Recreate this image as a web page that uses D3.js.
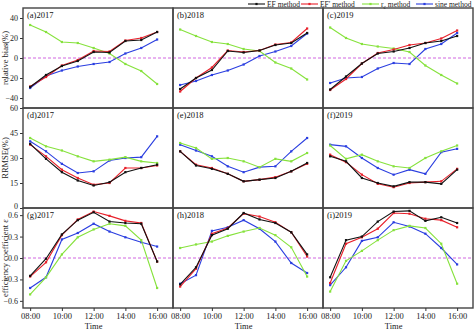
<!DOCTYPE html>
<html>
<head>
<meta charset="utf-8">
<script src="https://cdn.jsdelivr.net/npm/d3@7"></script>
<style>
  body { margin: 0; background: #fff; }
  text { font-family: "Liberation Serif", "Times New Roman", serif; }
</style>
</head>
<body>
<div id="chart"></div>
<script>
// hourly points 08:00 .. 16:00
const hours = [8, 9, 10, 11, 12, 13, 14, 15, 16];
const years = ["2017", "2018", "2019"];
const methods = ["EF", "EF2", "rc", "sine"];

// relative bias (%) per year
const biasEF = [
  [-29, -17, -8, -3, 6, 5.5, 17, 18, 26],
  [-31, -20, -12, 7, 5.5, 7.5, 13, 15, 25],
  [-31.5, -18.5, -5.5, 4.5, 6.5, 10, 15, 17, 22]
];
const biasEF2 = [
  [-28.5, -19, -7.5, -2, 7, 6.5, 17.5, 20, 26],
  [-33.5, -20, -9.5, 7.5, 6, 7.5, 13.5, 15.5, 29.5],
  [-32, -21, -5.5, 5, 8.5, 13, 15, 19.5, 27.5]
];
const biasRc = [
  [33, 26, 16, 15, 10, 4.5, -6, -13, -26],
  [28.5, 22, 16, 14, 9, 7, -4.5, -10.5, -21.5],
  [30.5, 20, 14, 11.5, 9.5, 6, -7.5, -17, -25.5]
];
const biasSine = [
  [-30, -18, -12.5, -8.5, -6, -4, 4.5, 10, 18.5],
  [-27, -23, -17, -12.5, -6.5, 2, 6.5, 12, 24.5],
  [-25, -20, -19, -10.5, -5, -6, 9, 14, 25]
];

// RRMSE (%) per year
const rrmseEF = [
  [38.5, 29.5, 21.5, 16.5, 13.5, 15.5, 21.5, 24, 26],
  [34, 25.5, 23.5, 20.5, 16, 17, 18, 22, 27],
  [31, 28, 18, 15, 13, 15.5, 15.5, 14.5, 23]
];
const rrmseEF2 = [
  [38, 31, 23, 18, 14, 15, 24, 24, 25.5],
  [34, 26, 24, 20.5, 16, 17, 18.5, 22, 26.5],
  [32, 27.5, 20, 14.5, 12.5, 15, 15.5, 16, 23.5]
];
const rrmseRc = [
  [42, 37, 34.5, 31, 28, 29, 30.5, 28, 27],
  [39, 36, 29.5, 30, 28, 24.5, 29.5, 28, 33],
  [37.5, 29.5, 32, 28, 25, 24, 30, 34, 37.5]
];
const rrmseSine = [
  [40, 34, 26.5, 21, 22, 28.5, 30, 30.5, 43],
  [38, 34.5, 31, 25, 21.5, 24.5, 25, 34, 42],
  [38, 37, 30, 24, 20, 23, 20.5, 33.5, 35.5]
];

// efficiency coefficient per year
const effEF = [
  [-0.25, -0.01, 0.33, 0.53, 0.64, 0.51, 0.49, 0.48, -0.05],
  [-0.37, -0.13, 0.32, 0.41, 0.63, 0.54, 0.49, 0.36, 0.05],
  [-0.27, 0.25, 0.30, 0.51, 0.65, 0.66, 0.52, 0.57, 0.49]
];
const effEF2 = [
  [-0.26, -0.06, 0.32, 0.54, 0.65, 0.59, 0.52, 0.49, -0.05],
  [-0.40, -0.15, 0.34, 0.42, 0.62, 0.58, 0.50, 0.36, 0.02],
  [-0.35, 0.20, 0.29, 0.41, 0.63, 0.62, 0.55, 0.53, 0.43]
];
const effRc = [
  [-0.51, -0.27, 0.05, 0.29, 0.40, 0.48, 0.45, 0.25, -0.42],
  [0.14, 0.19, 0.23, 0.31, 0.37, 0.42, 0.32, 0.15, -0.26],
  [-0.47, -0.04, 0.10, 0.25, 0.39, 0.45, 0.42, 0.20, -0.36]
];
const effSine = [
  [-0.42, -0.27, 0.26, 0.35, 0.48, 0.37, 0.29, 0.22, 0.16],
  [-0.36, -0.24, 0.38, 0.43, 0.53, 0.41, 0.23, -0.07, -0.21],
  [-0.38, -0.13, 0.24, 0.29, 0.50, 0.44, 0.34, 0.14, -0.09]
];

const xTicks = [8, 10, 12, 14, 16];
const letters = ["a", "b", "c", "d", "e", "f", "g", "h", "i"];

const rows = [
  { label: "relative bias(%)", domain: [-50, 50], ticks: [-40, -20, 0, 20, 40], fmt: d3.format("d"),
    series: { EF: biasEF, EF2: biasEF2, rc: biasRc, sine: biasSine }, zero: true },
  { label: "RRMSE(%)", domain: [0, 60], ticks: [0, 15, 30, 45, 60], fmt: d3.format("d"),
    series: { EF: rrmseEF, EF2: rrmseEF2, rc: rrmseRc, sine: rrmseSine }, zero: false },
  { label: "efficiency coefficient \u03b5", domain: [-0.7, 0.7], ticks: [-0.6, -0.3, 0, 0.3, 0.6], fmt: d3.format(".1f"),
    series: { EF: effEF, EF2: effEF2, rc: effRc, sine: effSine }, zero: true }
];

const color = { EF: "#111111", EF2: "#e8202a", rc: "#86e23c", sine: "#2a3ee0" };

const W = 474, H = 330;
const marginLeft = 23, marginTop = 8, panelW = 150, panelH = 100;

const svg = d3.select("#chart").append("svg")
  .attr("width", W)
  .attr("height", H);

const x = d3.scaleLinear().domain([7.55, 17]).range([0, panelW]);

rows.forEach((row, r) => {
  const y = d3.scaleLinear().domain(row.domain).range([panelH, 0]);
  const y0 = marginTop + r * panelH;

  // left axis for the row
  const ax = svg.append("g")
    .attr("transform", `translate(${marginLeft},${y0})`)
    .call(d3.axisLeft(y).tickValues(row.ticks).tickFormat(row.fmt).tickSize(3).tickPadding(2));
  ax.select(".domain").remove();
  ax.selectAll("text").style("font-size", "8px").attr("fill", "#222");
  ax.selectAll("line").attr("stroke", "#333");
  // bottom label on a shared border: nudge up so it clears the next row's top label
  ax.selectAll(".tick text").filter(d => d === row.domain[0]).attr("dy", "0.05em");

  svg.append("text")
    .attr("transform", `translate(8,${y0 + panelH / 2}) rotate(-90)`)
    .attr("text-anchor", "middle")
    .style("font-size", "8.5px")
    .attr("fill", "#222")
    .text(row.label);

  years.forEach((yr, c) => {
    const g = svg.append("g")
      .attr("transform", `translate(${marginLeft + c * panelW},${y0})`);

    if (row.zero) {
      g.append("line")
        .attr("x1", 0).attr("x2", panelW)
        .attr("y1", y(0)).attr("y2", y(0))
        .attr("stroke", "#cc55dd")
        .attr("stroke-width", 0.9)
        .attr("stroke-dasharray", "3,2");
    }

    const line = d3.line().x((d, i) => x(hours[i])).y(d => y(d));

    methods.slice().reverse().forEach(m => {
      const vals = row.series[m][c];
      g.append("path")
        .datum(vals)
        .attr("d", line)
        .attr("fill", "none")
        .attr("stroke", color[m])
        .attr("stroke-width", 1.1);
      g.selectAll(null)
        .data(vals)
        .join("rect")
        .attr("x", (d, i) => x(hours[i]) - 1.1)
        .attr("y", d => y(d) - 1.1)
        .attr("width", 2.2)
        .attr("height", 2.2)
        .attr("fill", color[m]);
    });

    g.append("text")
      .attr("x", 4)
      .attr("y", 10)
      .style("font-size", "8.5px")
      .attr("fill", "#111")
      .text(`(${letters[r * 3 + c]})${yr}`);

    // panel frame
    g.append("rect")
      .attr("width", panelW)
      .attr("height", panelH)
      .attr("fill", "none")
      .attr("stroke", "#444")
      .attr("stroke-width", 1.4);

    if (r === rows.length - 1) {
      const bx = g.append("g")
        .attr("transform", `translate(0,${panelH})`)
        .call(d3.axisBottom(x).tickValues(xTicks)
          .tickFormat(h => d3.format("02d")(h) + ":00").tickSize(3).tickPadding(2));
      bx.select(".domain").remove();
      bx.selectAll("text").style("font-size", "8.5px").attr("fill", "#222");
      bx.selectAll("line").attr("stroke", "#333");

      g.append("text")
        .attr("x", (x(8) + x(16)) / 2)
        .attr("y", panelH + 21)
        .attr("text-anchor", "middle")
        .style("font-size", "8.5px")
        .attr("fill", "#222")
        .text("Time");
    }
  });
});

// legend across the top
const legendItems = [
  { key: "EF", x: 248, text: "EF method" },
  { key: "EF2", x: 301, text: "EF\u2032 method" },
  { key: "rc", x: 362, text: "r", sub: "c", rest: " method" },
  { key: "sine", x: 416, text: "sine method" }
];
const lg = svg.append("g").attr("transform", "translate(0,4)");
legendItems.forEach(it => {
  lg.append("line")
    .attr("x1", it.x).attr("x2", it.x + 17)
    .attr("stroke", color[it.key]).attr("stroke-width", 1.1);
  lg.append("rect")
    .attr("x", it.x + 7.4).attr("y", -1.1)
    .attr("width", 2.2).attr("height", 2.2)
    .attr("fill", color[it.key]);
  const t = lg.append("text")
    .attr("x", it.x + 19)
    .attr("y", 3)
    .style("font-size", "7.5px")
    .attr("fill", "#222");
  t.append("tspan").text(it.text);
  if (it.sub) {
    t.append("tspan").attr("dy", 2).style("font-size", "5.5px").text(it.sub);
    t.append("tspan").attr("dy", -2).text(it.rest);
  }
});
</script>
</body>
</html>
